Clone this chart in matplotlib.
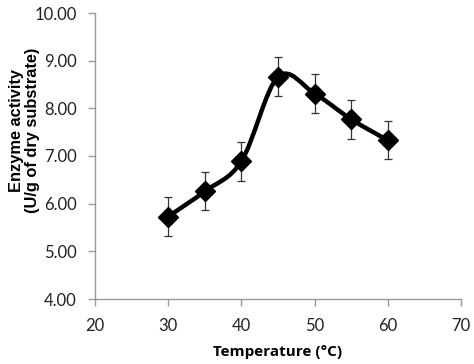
import numpy as np
import matplotlib
matplotlib.use("Agg")
import matplotlib.pyplot as plt
from matplotlib.path import Path
from matplotlib.patches import PathPatch

temperature = [30, 35, 40, 45, 50, 55, 60]
activity = [5.73, 6.26, 6.89, 8.66, 8.31, 7.77, 7.33]
error = [0.40, 0.40, 0.41, 0.41, 0.40, 0.41, 0.40]
x_ticks = [20, 30, 40, 50, 60, 70]
y_ticks = [4, 5, 6, 7, 8, 9, 10]

fig = plt.figure(figsize=(4.74, 3.64), dpi=100)
ax = fig.add_axes([95/474, 1-299/364, (461-95)/474, (299-13)/364])

# Excel-style smoothed line (Catmull-Rom converted to cubic Bezier)
x = np.array(temperature, float)
y = np.array(activity, float)
verts = [(x[0], y[0])]
codes = [Path.MOVETO]
n = len(x)
for i in range(n - 1):
    p0 = (x[i-1], y[i-1]) if i > 0 else (x[i], y[i])
    p1 = (x[i], y[i])
    p2 = (x[i+1], y[i+1])
    p3 = (x[i+2], y[i+2]) if i + 2 < n else (x[i+1], y[i+1])
    c1 = (p1[0] + (p2[0]-p0[0])/6, p1[1] + (p2[1]-p0[1])/6)
    c2 = (p2[0] - (p3[0]-p1[0])/6, p2[1] - (p3[1]-p1[1])/6)
    verts += [c1, c2, p2]
    codes += [Path.CURVE4]*3
ax.add_patch(PathPatch(Path(verts, codes), fill=False, lw=3.2, color='black',
                       capstyle='round', joinstyle='round', zorder=2))

ax.errorbar(temperature, activity, yerr=error, fmt='none', ecolor='#333333',
            elinewidth=0.9, capsize=3, capthick=0.9, zorder=3)
ax.plot(temperature, activity, linestyle='none', marker='D', markersize=10,
        color='black', zorder=4)

ax.set_xlim(20, 70)
ax.set_ylim(4, 10)
ax.set_xticks(x_ticks)
ax.set_yticks(y_ticks)
ax.set_xticklabels([str(v) for v in x_ticks])
ax.set_yticklabels([f"{v:.2f}" for v in y_ticks])

for s in ['top', 'right']:
    ax.spines[s].set_visible(False)
for s in ['left', 'bottom']:
    ax.spines[s].set_color('#999999')
    ax.spines[s].set_linewidth(1.0)
ax.tick_params(axis='both', direction='out', length=5, width=1.0, color='#999999',
               labelsize=12, labelcolor='#222222')
ax.tick_params(axis='x', pad=9)
ax.tick_params(axis='y', pad=8)
for lab in ax.get_xticklabels() + ax.get_yticklabels():
    lab.set_family('Lato')

ax.set_xlabel('Temperature (°C)', fontsize=11, fontweight='bold', family='Open Sans')
ax.set_ylabel('Enzyme activity\n(U/g of dry substrate)', fontsize=11.8, fontweight='bold',
              family='Liberation Sans', linespacing=1.05)
ax.xaxis.set_label_coords(0.5, -0.16)
ax.yaxis.set_label_coords(-0.15, 0.59)

fig.savefig('out.png', dpi=100)
